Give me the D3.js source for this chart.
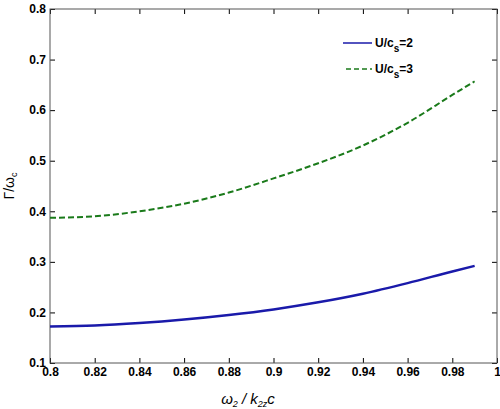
<!DOCTYPE html>
<html><head><meta charset="utf-8">
<script src="https://cdn.jsdelivr.net/npm/d3@7"></script>
<style>body{margin:0;background:#fff}text{font-family:Arial,"Liberation Sans",sans-serif}</style>
</head><body><div id="chart"></div>
<script>
var xs = [0.80, 0.82, 0.84, 0.86, 0.88, 0.90, 0.92, 0.94, 0.96, 0.98, 0.99];
var u2 = [0.172, 0.174, 0.179, 0.186, 0.195, 0.206, 0.220, 0.237, 0.258, 0.281, 0.292];
var u3 = [0.387, 0.390, 0.400, 0.415, 0.437, 0.465, 0.495, 0.530, 0.575, 0.630, 0.657];
var xTicks = [0.8, 0.82, 0.84, 0.86, 0.88, 0.9, 0.92, 0.94, 0.96, 0.98, 1];
var yTicks = [0.1, 0.2, 0.3, 0.4, 0.5, 0.6, 0.7, 0.8];

var margin = {top: 9, right: 3, bottom: 46, left: 50};
var width = 500 - margin.left - margin.right;
var height = 409 - margin.top - margin.bottom;

var svg = d3.select("#chart").append("svg").attr("width", 500).attr("height", 409);
var g = svg.append("g").attr("transform", "translate(" + margin.left + "," + margin.top + ")");

var x = d3.scaleLinear().domain([0.8, 1]).range([0, width]);
var y = d3.scaleLinear().domain([0.1, 0.8]).range([height, 0]);

function styleAxis(a) {
    a.selectAll("path").remove();
    a.selectAll("line").attr("stroke", "#000");
    a.selectAll("text").attr("font-size", "12px").attr("font-weight", "bold").attr("fill", "#000");
}
var fmt = d3.format("~g");
g.append("g").attr("transform", "translate(0," + height + ")")
    .call(d3.axisBottom(x).tickValues(xTicks).tickFormat(fmt).tickSize(-5).tickPadding(4)).call(styleAxis);
g.append("g").call(d3.axisTop(x).tickValues(xTicks).tickFormat("").tickSize(-5)).call(styleAxis);
g.append("g").call(d3.axisLeft(y).tickValues(yTicks).tickFormat(fmt).tickSize(-5).tickPadding(4)).call(styleAxis);
g.append("g").attr("transform", "translate(" + width + ",0)")
    .call(d3.axisRight(y).tickValues(yTicks).tickFormat("").tickSize(-5)).call(styleAxis);
g.append("rect").attr("width", width).attr("height", height).attr("fill", "none").attr("stroke", "#555");

var line = d3.line().x(function(d){ return x(d[0]); }).y(function(d){ return y(d[1]); }).curve(d3.curveMonotoneX);
g.append("path").datum(d3.zip(xs, u2)).attr("d", line).attr("fill", "none").attr("stroke", "#1a1aaa").attr("stroke-width", 2.5);
g.append("path").datum(d3.zip(xs, u3)).attr("d", line).attr("fill", "none").attr("stroke", "#1a7a1a").attr("stroke-width", 2).attr("stroke-dasharray", "6,3");

// legend
var lg = svg.append("g");
lg.append("line").attr("x1", 343).attr("x2", 372).attr("y1", 43).attr("y2", 43).attr("stroke", "#1a1aaa").attr("stroke-width", 1.5);
lg.append("line").attr("x1", 346).attr("x2", 372).attr("y1", 69).attr("y2", 69).attr("stroke", "#1a7a1a").attr("stroke-width", 1.5).attr("stroke-dasharray", "5,3");
[["2", 47], ["3", 73]].forEach(function(d){
    var t = lg.append("text").attr("x", 375).attr("y", d[1]).attr("font-size", "12px").attr("font-weight", "bold");
    t.append("tspan").text("U/c");
    t.append("tspan").attr("dy", 5).attr("font-size", "10px").text("s");
    t.append("tspan").attr("dy", -5).text("=" + d[0]);
});

// axis titles
var xt = svg.append("text").attr("x", 248).attr("y", 404).attr("text-anchor", "middle")
    .attr("font-family", "Liberation Serif, serif").attr("font-style", "italic").attr("font-size", "15px");
xt.append("tspan").text("ω");
xt.append("tspan").attr("dy", 3).attr("font-size", "9px").text("2");
xt.append("tspan").attr("dy", -3).text(" / k");
xt.append("tspan").attr("dy", 3).attr("font-size", "9px").text("2z");
xt.append("tspan").attr("dy", -3).text("c");

var yt = svg.append("text").attr("transform", "translate(14,186) rotate(-90)").attr("text-anchor", "middle")
    .attr("font-family", "Liberation Serif, serif").attr("font-size", "14px");
yt.append("tspan").text("Γ/ω");
yt.append("tspan").attr("dy", 3).attr("font-size", "9px").text("c");
</script></body></html>
